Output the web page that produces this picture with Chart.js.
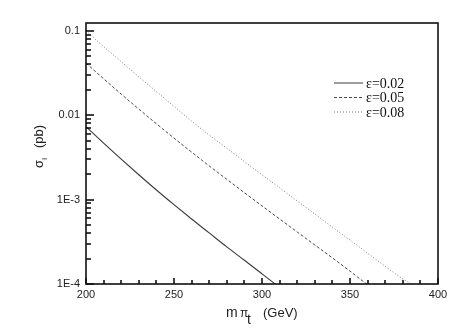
<!DOCTYPE html>
<html>
<head>
<meta charset="utf-8">
<script src="https://cdn.jsdelivr.net/npm/chart.js@4"></script>
<style>
  body { margin: 0; background: #fff; }
  #wrap { width: 474px; height: 335px; }
</style>
</head>
<body>
<div id="wrap"><canvas id="chart" width="474" height="335"></canvas></div>
<script>
// m_pi_t in GeV, sigma in pb
const massEps02 = [200, 210, 220, 230, 240, 250, 260, 270, 280, 290, 300, 310];
const sigmaEps02 = [0.00733, 0.00468, 0.00302, 0.00197, 0.00130, 8.71e-4, 5.89e-4, 4.03e-4, 2.75e-4, 1.91e-4, 1.32e-4, 9.1e-5];

const massEps05 = [200, 210, 220, 230, 240, 250, 260, 270, 280, 290, 300, 310, 320, 330, 340, 350, 360, 365];
const sigmaEps05 = [0.0415, 0.0271, 0.01782, 0.01183, 0.00793, 0.00536, 0.00366, 0.00251, 0.00174, 0.00121, 8.43e-4, 5.90e-4, 4.14e-4, 2.90e-4, 2.04e-4, 1.42e-4, 9.8e-5, 8.3e-5];

const massEps08 = [200, 210, 220, 230, 240, 250, 260, 270, 280, 290, 300, 310, 320, 330, 340, 350, 360, 370, 380, 385, 390];
const sigmaEps08 = [0.1, 0.0653, 0.0432, 0.0285, 0.0191, 0.01274, 0.00851, 0.00582, 0.00407, 0.00282, 0.00197, 0.00138, 9.66e-4, 6.76e-4, 4.73e-4, 3.31e-4, 2.32e-4, 1.62e-4, 1.15e-4, 9.9e-5, 8.4e-5];

const seriesLabels = ["\u03b5=0.02", "\u03b5=0.05", "\u03b5=0.08"];
const yTickValues = [1e-4, 1e-3, 0.01, 0.1];
const yTickLabels = ["1E-4", "1E-3", "0.01", "0.1"];
const xTickValues = [200, 250, 300, 350, 400];

const toPoints = (xs, ys) => xs.map((m, i) => ({ x: m, y: ys[i] }));
const sans = 'Arial, "Liberation Sans", sans-serif';

// frame, inward ticks, axis titles and legend
const decorations = {
  id: "decorations",
  afterDraw(chart) {
    const ctx = chart.ctx;
    const ca = chart.chartArea;
    const xs = chart.scales.x;
    const ys = chart.scales.y;
    const seg = (x1, y1, x2, y2) => {
      ctx.beginPath();
      ctx.moveTo(x1, y1);
      ctx.lineTo(x2, y2);
      ctx.stroke();
    };
    ctx.save();
    ctx.setLineDash([]);
    ctx.strokeStyle = "#000";
    ctx.lineWidth = 1.5;
    for (let v = 200; v <= 400; v += 10) {
      const px = Math.round(xs.getPixelForValue(v));
      seg(px, ca.bottom, px, ca.bottom - (v % 50 === 0 ? 6 : 4));
    }
    for (let d = -4; d <= -1; d++) {
      for (let k = 1; k <= 9; k++) {
        const v = k * Math.pow(10, d);
        if (v < ys.min || v > ys.max) continue;
        const py = Math.round(ys.getPixelForValue(v));
        seg(ca.left, py, ca.left + (k === 1 ? 8 : 5), py);
      }
    }

    ctx.strokeStyle = "#111";
    ctx.lineWidth = 1.6;
    ctx.strokeRect(ca.left, ca.top, ca.right - ca.left, ca.bottom - ca.top);

    // x title: m_{pi t} (GeV)
    ctx.fillStyle = "#222";
    ctx.textBaseline = "alphabetic";
    ctx.textAlign = "left";
    ctx.font = "14px " + sans;
    ctx.fillText("m", 226, 317);
    ctx.font = "12px " + sans;
    ctx.fillText("\u03c0", 240, 317);
    ctx.font = "14px " + sans;
    ctx.fillText("t", 247, 324);
    ctx.font = "13px " + sans;
    ctx.fillText("(GeV)", 263, 317);

    // y title: sigma_I (pb), rotated
    ctx.save();
    ctx.translate(43, 168);
    ctx.rotate(-Math.PI / 2);
    ctx.font = "13px " + sans;
    ctx.fillText("\u03c3", 0, 0);
    ctx.font = "8px " + sans;
    ctx.fillText("I", 8, 4);
    ctx.font = "13px " + sans;
    ctx.fillText("(pb)", 20, 0);
    ctx.restore();

    // legend
    chart.data.datasets.forEach((ds, i) => {
      const ly = 83 + i * 14.5;
      ctx.strokeStyle = ds.borderColor;
      ctx.lineWidth = 1;
      ctx.setLineDash(ds.borderDash || []);
      seg(334, ly, 363, ly);
      ctx.setLineDash([]);
      ctx.fillStyle = "#111";
      ctx.font = '14px "Liberation Serif", "Times New Roman", serif';
      ctx.textBaseline = "middle";
      ctx.fillText(ds.label, 366, ly + 1);
    });
    ctx.restore();
  }
};

new Chart(document.getElementById("chart"), {
  type: "line",
  data: {
    datasets: [
      { label: seriesLabels[0], data: toPoints(massEps02, sigmaEps02), borderColor: "#3a3a3a", borderWidth: 1.1 },
      { label: seriesLabels[1], data: toPoints(massEps05, sigmaEps05), borderColor: "#4a4a4a", borderWidth: 1, borderDash: [3, 2] },
      { label: seriesLabels[2], data: toPoints(massEps08, sigmaEps08), borderColor: "#7a7a7a", borderWidth: 1, borderDash: [1, 2] }
    ]
  },
  options: {
    responsive: false,
    animation: false,
    layout: { padding: { top: 23, right: 36, left: 0, bottom: 0 } },
    elements: { point: { radius: 0 }, line: { cubicInterpolationMode: "monotone" } },
    plugins: { legend: { display: false }, tooltip: { enabled: false } },
    scales: {
      x: {
        type: "linear",
        min: 200,
        max: 400,
        afterBuildTicks: (s) => { s.ticks = xTickValues.map((v) => ({ value: v })); },
        afterFit: (s) => { s.height = 51; },
        grid: { display: false, drawTicks: false },
        border: { display: false },
        ticks: { color: "#222", font: { family: sans, size: 11 }, padding: 4, maxRotation: 0 }
      },
      y: {
        type: "logarithmic",
        min: 1e-4,
        max: 0.124,
        afterBuildTicks: (s) => { s.ticks = yTickValues.map((v) => ({ value: v })); },
        afterFit: (s) => { s.width = 86; },
        grid: { display: false, drawTicks: false },
        border: { display: false },
        ticks: {
          color: "#222",
          font: { family: sans, size: 11 },
          padding: 6,
          callback: (v) => yTickLabels[yTickValues.indexOf(v)]
        }
      }
    }
  },
  plugins: [decorations]
});
</script>
</body>
</html>
